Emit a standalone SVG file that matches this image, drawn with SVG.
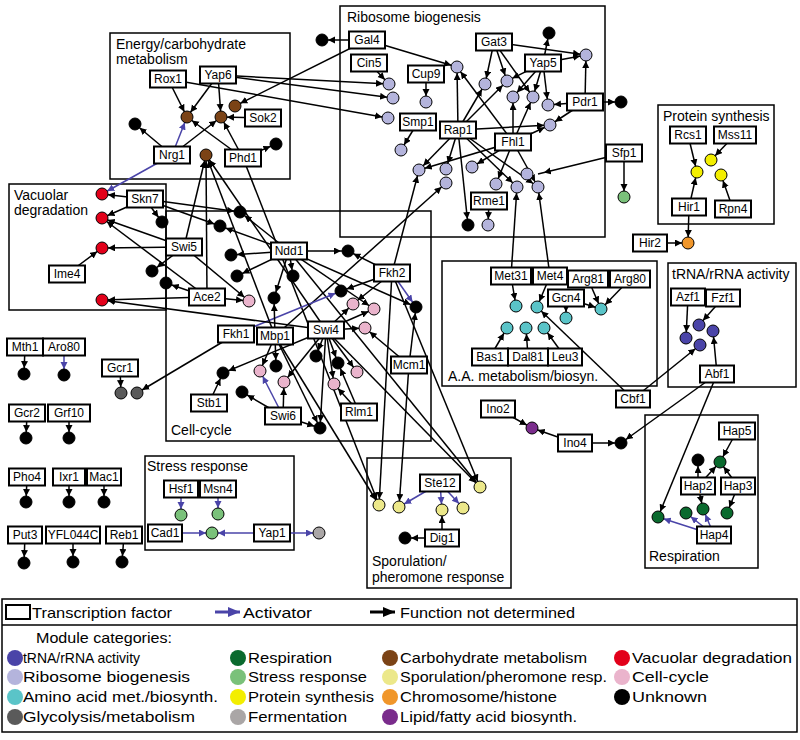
<svg xmlns="http://www.w3.org/2000/svg" width="800" height="740" viewBox="0 0 800 740">
<style>
text{font-family:"Liberation Sans",Arial,sans-serif;font-size:12px;fill:#000}
.t{text-anchor:middle}
.rg{font-size:14px}
.lg{font-size:15px}
.reg{fill:none;stroke:#000;stroke-width:1.5}
.tf rect{fill:#fff;stroke:#000;stroke-width:2}
.e line{stroke:#000;stroke-width:1.5;marker-end:url(#ab)}
.e line.b{stroke:#4a44a8;marker-end:url(#ap)}
circle{stroke:#000;stroke-width:1}
.k{fill:#000}.lv{fill:#b4b4dc}.br{fill:#7b4316}.rd{fill:#e2001a}.pk{fill:#eab4cc}.ye{fill:#f3ee00}.sy{fill:#ece88a}
.gr{fill:#7ac17a}.dg{fill:#0a6a2e}.tl{fill:#5ac4c8}.db{fill:#4a44a8}.gy{fill:#5a5a5a}.fg{fill:#aaa6a6}.or{fill:#f0962a}.pu{fill:#7a2c8c}
#legend circle{stroke:none}
</style>
<defs>
<marker id="ab" markerUnits="userSpaceOnUse" markerWidth="14" markerHeight="10" refX="13" refY="3.5" orient="auto"><path d="M0,0 L7,3.5 L0,7 z" fill="#000"/></marker>
<marker id="ap" markerUnits="userSpaceOnUse" markerWidth="14" markerHeight="10" refX="13" refY="3.5" orient="auto"><path d="M0,0 L7,3.5 L0,7 z" fill="#4a44a8"/></marker>
<marker id="lb" markerUnits="userSpaceOnUse" markerWidth="14" markerHeight="12" refX="12" refY="5" orient="auto"><path d="M0,0 L12,5 L0,10 z" fill="#4a44a8"/></marker>
<marker id="lk" markerUnits="userSpaceOnUse" markerWidth="14" markerHeight="12" refX="12" refY="5" orient="auto"><path d="M0,0 L12,5 L0,10 z" fill="#000"/></marker>
</defs>
<rect width="800" height="740" fill="#fff"/>
<g id="regions">
<rect class="reg" x="110" y="33" width="180" height="146"/><text class="rg" x="116" y="49">Energy/carbohydrate</text><text class="rg" x="116" y="64">metabolism</text>
<rect class="reg" x="340" y="6" width="265" height="231"/><text class="rg" x="347" y="22">Ribosome biogenesis</text>
<rect class="reg" x="9" y="184" width="157" height="126"/><text class="rg" x="14" y="200">Vacuolar</text><text class="rg" x="14" y="215">degradation</text>
<path class="reg" d="M166,211 H431 V441 H166 Z"/><text class="rg" x="171" y="435">Cell-cycle</text>
<rect class="reg" x="658" y="105" width="116" height="119"/><text class="rg" x="663" y="121">Protein synthesis</text>
<rect class="reg" x="442" y="261" width="215" height="125"/><text class="rg" x="448" y="381">A.A. metabolism/biosyn.</text>
<rect class="reg" x="668" y="263" width="128" height="124"/><text class="rg" x="672" y="279">tRNA/rRNA activity</text>
<rect class="reg" x="145" y="456" width="149" height="94"/><text class="rg" x="147" y="471">Stress response</text>
<rect class="reg" x="367" y="458" width="144" height="130"/><text class="rg" x="372" y="566">Sporulation/</text><text class="rg" x="372" y="582">pheromone response</text>
<rect class="reg" x="645" y="415" width="113" height="153"/><text class="rg" x="649" y="561">Respiration</text>
</g>
<g id="connectors" class="e">
<line x1="367" y1="40" x2="322" y2="40"/><line x1="367" y1="40" x2="235" y2="106"/><line x1="367" y1="40" x2="457" y2="67"/>
<line x1="168" y1="79" x2="187" y2="117"/><line x1="168" y1="79" x2="388" y2="118"/>
<line x1="218" y1="75" x2="187" y2="117"/><line x1="218" y1="75" x2="221" y2="117"/><line x1="218" y1="75" x2="389" y2="84"/><line x1="218" y1="75" x2="393" y2="98"/>
<line x1="263" y1="118" x2="221" y2="117"/>
<line x1="172" y1="155" x2="135" y2="124"/><line class="b" x1="172" y1="155" x2="187" y2="117"/><line x1="172" y1="155" x2="221" y2="117"/><line class="b" x1="172" y1="155" x2="102" y2="194"/>
<line x1="243" y1="158" x2="187" y2="117"/><line x1="243" y1="158" x2="221" y2="117"/><line x1="243" y1="158" x2="276" y2="144"/><line x1="243" y1="158" x2="379" y2="505"/>
<line x1="369" y1="63" x2="389" y2="84"/><line x1="426" y1="74" x2="426" y2="102"/><line x1="418" y1="122" x2="401" y2="150"/>
<line x1="494" y1="42" x2="485" y2="84"/><line x1="494" y1="42" x2="507" y2="81"/><line x1="494" y1="42" x2="533" y2="97"/><line x1="494" y1="42" x2="586" y2="55"/>
<line x1="543" y1="63" x2="549" y2="33"/><line x1="543" y1="63" x2="586" y2="55"/><line x1="543" y1="63" x2="513" y2="97"/><line x1="543" y1="63" x2="533" y2="97"/><line x1="543" y1="63" x2="548" y2="105"/><line x1="543" y1="63" x2="507" y2="81"/>
<line x1="458" y1="130" x2="457" y2="67"/><line x1="458" y1="130" x2="485" y2="84"/><line x1="458" y1="130" x2="507" y2="81"/><line x1="458" y1="130" x2="550" y2="125"/><line x1="458" y1="130" x2="419" y2="170"/><line x1="458" y1="130" x2="446" y2="169"/><line x1="458" y1="130" x2="468" y2="225"/><line x1="458" y1="130" x2="517" y2="187"/><line x1="458" y1="130" x2="538" y2="187"/>
<line x1="513" y1="142" x2="457" y2="67"/><line x1="513" y1="142" x2="513" y2="97"/><line x1="513" y1="142" x2="533" y2="97"/><line x1="513" y1="142" x2="550" y2="125"/><line x1="513" y1="142" x2="419" y2="170"/><line x1="513" y1="142" x2="472" y2="167"/><line x1="513" y1="142" x2="496" y2="184"/><line x1="513" y1="142" x2="538" y2="187"/>
<line x1="585" y1="102" x2="621" y2="102"/><line x1="585" y1="102" x2="586" y2="55"/><line x1="585" y1="102" x2="548" y2="105"/><line x1="585" y1="102" x2="550" y2="125"/>
<line x1="624" y1="153" x2="538" y2="174"/><line x1="624" y1="153" x2="624" y2="197"/><line x1="489" y1="201" x2="488" y2="225"/>
<line x1="392" y1="273" x2="419" y2="170"/><line x1="275" y1="336" x2="446" y2="183"/>
<line x1="511" y1="276" x2="517" y2="187"/><line x1="550" y1="276" x2="538" y2="187"/><line x1="511" y1="276" x2="516" y2="306"/><line x1="550" y1="276" x2="537" y2="307"/>
<line x1="145" y1="199" x2="102" y2="194"/><line x1="145" y1="199" x2="102" y2="218"/><line x1="145" y1="199" x2="162" y2="222"/><line x1="145" y1="199" x2="240" y2="212"/><line x1="145" y1="199" x2="220" y2="226"/>
<line x1="184" y1="247" x2="102" y2="218"/><line x1="184" y1="247" x2="102" y2="248"/><line x1="184" y1="247" x2="152" y2="271"/><line x1="184" y1="247" x2="249" y2="301"/><line x1="184" y1="247" x2="206" y2="155"/>
<line x1="67" y1="274" x2="102" y2="248"/>
<line x1="207" y1="297" x2="102" y2="218"/><line x1="207" y1="297" x2="166" y2="283"/><line x1="207" y1="297" x2="206" y2="155"/><line x1="207" y1="297" x2="249" y2="301"/><line x1="207" y1="297" x2="102" y2="300"/>
<line x1="289" y1="251" x2="240" y2="212"/><line x1="289" y1="251" x2="220" y2="226"/><line x1="289" y1="251" x2="231" y2="255"/><line x1="289" y1="251" x2="237" y2="276"/><line x1="289" y1="251" x2="347" y2="251"/><line x1="289" y1="251" x2="293" y2="276"/><line x1="289" y1="251" x2="274" y2="298"/><line x1="289" y1="251" x2="374" y2="309"/><line x1="289" y1="251" x2="416" y2="307"/><line x1="289" y1="251" x2="480" y2="487"/>
<line x1="392" y1="273" x2="348" y2="251"/><line x1="392" y1="273" x2="341" y2="291"/><line class="b" x1="392" y1="273" x2="416" y2="307"/><line x1="392" y1="273" x2="353" y2="304"/><line x1="392" y1="273" x2="379" y2="505"/><line x1="392" y1="273" x2="480" y2="487"/>
<line class="b" x1="236" y1="334" x2="341" y2="291"/><line x1="236" y1="334" x2="137" y2="393"/>
<line x1="275" y1="336" x2="274" y2="298"/><line x1="275" y1="336" x2="276" y2="366"/><line x1="275" y1="336" x2="260" y2="371"/><line x1="275" y1="336" x2="320" y2="428"/><line x1="275" y1="336" x2="379" y2="505"/><line x1="275" y1="336" x2="206" y2="155"/>
<line x1="326" y1="330" x2="102" y2="300"/><line x1="326" y1="330" x2="353" y2="304"/><line x1="326" y1="330" x2="374" y2="309"/><line x1="326" y1="330" x2="365" y2="328"/><line x1="326" y1="330" x2="316" y2="356"/><line x1="326" y1="330" x2="338" y2="363"/><line x1="326" y1="330" x2="357" y2="372"/><line x1="326" y1="330" x2="334" y2="384"/><line x1="326" y1="330" x2="284" y2="382"/><line x1="326" y1="330" x2="223" y2="373"/><line x1="326" y1="330" x2="320" y2="428"/><line x1="326" y1="330" x2="480" y2="487"/><line x1="326" y1="330" x2="206" y2="155"/>
<line x1="283" y1="416" x2="242" y2="392"/><line class="b" x1="283" y1="416" x2="260" y2="371"/><line x1="283" y1="416" x2="284" y2="382"/><line x1="283" y1="416" x2="320" y2="428"/>
<line x1="209" y1="403" x2="223" y2="373"/>
<line x1="359" y1="412" x2="338" y2="363"/><line x1="359" y1="412" x2="334" y2="384"/>
<line x1="409" y1="365" x2="365" y2="328"/><line x1="409" y1="365" x2="416" y2="307"/><line x1="409" y1="365" x2="399" y2="507"/>
<line class="b" x1="440" y1="483" x2="399" y2="507"/><line class="b" x1="440" y1="483" x2="442" y2="510"/><line class="b" x1="440" y1="483" x2="463" y2="508"/>
<line x1="442" y1="538" x2="442" y2="510"/><line x1="442" y1="538" x2="405" y2="538"/>
<line x1="25" y1="347" x2="24" y2="374"/><line class="b" x1="64" y1="347" x2="64" y2="375"/><line x1="120" y1="368" x2="121" y2="393"/>
<line x1="27" y1="413" x2="26" y2="438"/><line x1="69" y1="413" x2="69" y2="438"/>
<line x1="27" y1="477" x2="26" y2="502"/><line x1="69" y1="477" x2="69" y2="502"/><line x1="104" y1="477" x2="104" y2="502"/>
<line x1="25" y1="535" x2="24" y2="563"/><line x1="73" y1="535" x2="73" y2="562"/><line x1="124" y1="535" x2="122" y2="562"/>
<line class="b" x1="181" y1="489" x2="181" y2="515"/><line class="b" x1="218" y1="489" x2="218" y2="514"/><line class="b" x1="165" y1="533" x2="212" y2="533"/><line class="b" x1="272" y1="533" x2="212" y2="533"/><line class="b" x1="272" y1="533" x2="319" y2="533"/>
<line x1="688" y1="135" x2="697" y2="172"/><line x1="735" y1="135" x2="711" y2="160"/><line x1="689" y1="207" x2="697" y2="172"/><line x1="733" y1="209" x2="721" y2="175"/><line x1="689" y1="207" x2="688" y2="243"/><line x1="650" y1="243" x2="688" y2="243"/>
<line x1="566" y1="298" x2="566" y2="318"/><line x1="566" y1="298" x2="601" y2="309"/><line x1="588" y1="279" x2="601" y2="309"/><line x1="630" y1="279" x2="601" y2="309"/>
<line x1="490" y1="357" x2="507" y2="328"/><line x1="528" y1="357" x2="526" y2="328"/><line x1="565" y1="357" x2="544" y2="328"/>
<line x1="633" y1="399" x2="537" y2="307"/><line x1="633" y1="399" x2="700" y2="345"/>
<line x1="688" y1="297" x2="686" y2="338"/><line x1="723" y1="298" x2="699" y2="325"/><line x1="717" y1="374" x2="713" y2="331"/><line x1="717" y1="374" x2="621" y2="443"/><line x1="717" y1="374" x2="658" y2="517"/>
<line x1="498" y1="409" x2="532" y2="428"/><line x1="575" y1="443" x2="532" y2="428"/><line x1="575" y1="443" x2="621" y2="443"/>
<line x1="737" y1="431" x2="720" y2="462"/><line x1="698" y1="486" x2="698" y2="460"/><line x1="698" y1="486" x2="720" y2="462"/><line x1="698" y1="486" x2="703" y2="509"/><line x1="738" y1="486" x2="720" y2="462"/><line x1="738" y1="486" x2="727" y2="513"/>
<line class="b" x1="714" y1="535" x2="658" y2="517"/><line class="b" x1="714" y1="535" x2="686" y2="513"/><line class="b" x1="714" y1="535" x2="703" y2="509"/>
</g>
<g id="modules">
<circle class="k" cx="322" cy="40" r="6"/>
<circle class="k" cx="135" cy="124" r="6"/><circle class="br" cx="187" cy="117" r="6"/><circle class="br" cx="221" cy="117" r="6"/><circle class="br" cx="235" cy="106" r="6"/><circle class="k" cx="276" cy="144" r="6"/><circle class="br" cx="206" cy="155" r="6"/>
<circle class="lv" cx="389" cy="84" r="6"/><circle class="lv" cx="393" cy="98" r="6"/><circle class="lv" cx="388" cy="118" r="6"/><circle class="lv" cx="401" cy="150" r="6"/><circle class="lv" cx="426" cy="102" r="6"/><circle class="lv" cx="419" cy="170" r="6"/><circle class="lv" cx="446" cy="183" r="6"/>
<circle class="lv" cx="457" cy="67" r="6"/><circle class="lv" cx="485" cy="84" r="6"/><circle class="lv" cx="507" cy="81" r="6"/><circle class="lv" cx="513" cy="97" r="6"/><circle class="lv" cx="533" cy="97" r="6"/><circle class="lv" cx="548" cy="105" r="6"/><circle class="lv" cx="586" cy="55" r="6"/><circle class="lv" cx="550" cy="125" r="6"/>
<circle class="lv" cx="472" cy="167" r="6"/><circle class="lv" cx="496" cy="184" r="6"/><circle class="lv" cx="517" cy="187" r="6"/><circle class="lv" cx="527" cy="174" r="6"/><circle class="lv" cx="538" cy="187" r="6"/><circle class="lv" cx="488" cy="225" r="6"/><circle class="lv" cx="446" cy="169" r="6"/>
<circle class="k" cx="549" cy="33" r="6"/><circle class="k" cx="621" cy="102" r="6"/><circle class="k" cx="468" cy="225" r="6"/><circle class="gr" cx="624" cy="197" r="6"/>
<circle class="ye" cx="697" cy="172" r="6"/><circle class="ye" cx="711" cy="160" r="6"/><circle class="ye" cx="721" cy="175" r="6"/><circle class="or" cx="688" cy="243" r="6"/>
<circle class="rd" cx="102" cy="194" r="6"/><circle class="rd" cx="102" cy="218" r="6"/><circle class="rd" cx="102" cy="248" r="6"/><circle class="rd" cx="102" cy="300" r="6"/>
<circle class="k" cx="162" cy="222" r="6"/><circle class="k" cx="152" cy="271" r="6"/><circle class="k" cx="166" cy="283" r="6"/><circle class="k" cx="240" cy="212" r="6"/><circle class="k" cx="220" cy="226" r="6"/><circle class="k" cx="231" cy="255" r="6"/><circle class="k" cx="237" cy="276" r="6"/>
<circle class="k" cx="348" cy="251" r="6"/><circle class="k" cx="293" cy="276" r="6"/><circle class="k" cx="274" cy="298" r="6"/><circle class="k" cx="341" cy="291" r="6"/><circle class="k" cx="416" cy="307" r="6"/><circle class="k" cx="316" cy="356" r="6"/><circle class="k" cx="276" cy="366" r="6"/><circle class="k" cx="338" cy="363" r="6"/><circle class="k" cx="223" cy="373" r="6"/><circle class="k" cx="242" cy="392" r="6"/><circle class="k" cx="320" cy="428" r="6"/>
<circle class="pk" cx="249" cy="301" r="6"/><circle class="pk" cx="353" cy="304" r="6"/><circle class="pk" cx="374" cy="309" r="6"/><circle class="pk" cx="365" cy="328" r="6"/><circle class="pk" cx="260" cy="371" r="6"/><circle class="pk" cx="284" cy="382" r="6"/><circle class="pk" cx="357" cy="372" r="6"/><circle class="pk" cx="334" cy="384" r="6"/>
<circle class="gy" cx="121" cy="393" r="6"/><circle class="gy" cx="137" cy="393" r="6"/>
<circle class="k" cx="24" cy="374" r="6"/><circle class="k" cx="64" cy="375" r="6"/><circle class="k" cx="26" cy="438" r="6"/><circle class="k" cx="69" cy="438" r="6"/><circle class="k" cx="26" cy="502" r="6"/><circle class="k" cx="69" cy="502" r="6"/><circle class="k" cx="104" cy="502" r="6"/><circle class="k" cx="24" cy="563" r="6"/><circle class="k" cx="73" cy="562" r="6"/><circle class="k" cx="122" cy="562" r="6"/>
<circle class="gr" cx="181" cy="515" r="6"/><circle class="gr" cx="218" cy="514" r="6"/><circle class="gr" cx="212" cy="533" r="6"/><circle class="fg" cx="319" cy="533" r="6"/>
<circle class="sy" cx="379" cy="505" r="6"/><circle class="sy" cx="399" cy="507" r="6"/><circle class="sy" cx="442" cy="510" r="6"/><circle class="sy" cx="463" cy="508" r="6"/><circle class="sy" cx="480" cy="487" r="6"/><circle class="k" cx="405" cy="538" r="6"/>
<circle class="tl" cx="516" cy="306" r="6"/><circle class="tl" cx="537" cy="307" r="6"/><circle class="tl" cx="566" cy="318" r="6"/><circle class="tl" cx="601" cy="309" r="6"/><circle class="tl" cx="507" cy="328" r="6"/><circle class="tl" cx="526" cy="328" r="6"/><circle class="tl" cx="544" cy="328" r="6"/>
<circle class="pu" cx="532" cy="428" r="6"/><circle class="k" cx="621" cy="443" r="6"/>
<circle class="db" cx="686" cy="338" r="6"/><circle class="db" cx="699" cy="325" r="6"/><circle class="db" cx="713" cy="331" r="6"/><circle class="db" cx="700" cy="345" r="6"/>
<circle class="k" cx="698" cy="460" r="6"/><circle class="dg" cx="720" cy="462" r="6"/><circle class="dg" cx="658" cy="517" r="6"/><circle class="dg" cx="686" cy="513" r="6"/><circle class="dg" cx="703" cy="509" r="6"/><circle class="dg" cx="727" cy="513" r="6"/>
</g>
<g class="tf">
<g id="Gal4"><rect x="349" y="31.5" width="36" height="17"/><text class="t" x="367" y="44">Gal4</text></g>
<g id="Cin5"><rect x="351" y="54.5" width="36" height="17"/><text class="t" x="369" y="67">Cin5</text></g>
<g id="Cup9"><rect x="408" y="65.5" width="36" height="17"/><text class="t" x="426" y="78">Cup9</text></g>
<g id="Smp1"><rect x="400" y="113.5" width="36" height="17"/><text class="t" x="418" y="126">Smp1</text></g>
<g id="Rap1"><rect x="440" y="121.5" width="36" height="17"/><text class="t" x="458" y="134">Rap1</text></g>
<g id="Gat3"><rect x="476" y="33.5" width="36" height="17"/><text class="t" x="494" y="46">Gat3</text></g>
<g id="Yap5"><rect x="525" y="54.5" width="36" height="17"/><text class="t" x="543" y="67">Yap5</text></g>
<g id="Pdr1"><rect x="567" y="93.5" width="36" height="17"/><text class="t" x="585" y="106">Pdr1</text></g>
<g id="Fhl1"><rect x="495" y="133.5" width="36" height="17"/><text class="t" x="513" y="146">Fhl1</text></g>
<g id="Sfp1"><rect x="606" y="144.5" width="36" height="17"/><text class="t" x="624" y="157">Sfp1</text></g>
<g id="Rme1"><rect x="471" y="192.5" width="36" height="17"/><text class="t" x="489" y="205">Rme1</text></g>
<g id="Rox1"><rect x="150" y="70.5" width="36" height="17"/><text class="t" x="168" y="83">Rox1</text></g>
<g id="Yap6"><rect x="200" y="66.5" width="36" height="17"/><text class="t" x="218" y="79">Yap6</text></g>
<g id="Sok2"><rect x="245" y="109.5" width="36" height="17"/><text class="t" x="263" y="122">Sok2</text></g>
<g id="Nrg1"><rect x="154" y="146.5" width="36" height="17"/><text class="t" x="172" y="159">Nrg1</text></g>
<g id="Phd1"><rect x="225" y="149.5" width="36" height="17"/><text class="t" x="243" y="162">Phd1</text></g>
<g id="Skn7"><rect x="127" y="190.5" width="36" height="17"/><text class="t" x="145" y="203">Skn7</text></g>
<g id="Swi5"><rect x="166" y="238.5" width="36" height="17"/><text class="t" x="184" y="251">Swi5</text></g>
<g id="Ime4"><rect x="49" y="265.5" width="36" height="17"/><text class="t" x="67" y="278">Ime4</text></g>
<g id="Ndd1"><rect x="271" y="242.5" width="36" height="17"/><text class="t" x="289" y="255">Ndd1</text></g>
<g id="Fkh2"><rect x="374" y="264.5" width="36" height="17"/><text class="t" x="392" y="277">Fkh2</text></g>
<g id="Ace2"><rect x="189" y="288.5" width="36" height="17"/><text class="t" x="207" y="301">Ace2</text></g>
<g id="Fkh1"><rect x="218" y="325.5" width="36" height="17"/><text class="t" x="236" y="338">Fkh1</text></g>
<g id="Mbp1"><rect x="257" y="327.5" width="36" height="17"/><text class="t" x="275" y="340">Mbp1</text></g>
<g id="Swi4"><rect x="308" y="321.5" width="36" height="17"/><text class="t" x="326" y="334">Swi4</text></g>
<g id="Stb1"><rect x="191" y="394.5" width="36" height="17"/><text class="t" x="209" y="407">Stb1</text></g>
<g id="Swi6"><rect x="265" y="407.5" width="36" height="17"/><text class="t" x="283" y="420">Swi6</text></g>
<g id="Rlm1"><rect x="341" y="403.5" width="36" height="17"/><text class="t" x="359" y="416">Rlm1</text></g>
<g id="Mcm1"><rect x="391" y="356.5" width="36" height="17"/><text class="t" x="409" y="369">Mcm1</text></g>
<g id="Gcr1"><rect x="102" y="359.5" width="36" height="17"/><text class="t" x="120" y="372">Gcr1</text></g>
<g id="Mth1"><rect x="7" y="338.5" width="36" height="17"/><text class="t" x="25" y="351">Mth1</text></g>
<g id="Aro80"><rect x="43" y="338.5" width="42" height="17"/><text class="t" x="64" y="351">Aro80</text></g>
<g id="Gcr2"><rect x="9" y="404.5" width="36" height="17"/><text class="t" x="27" y="417">Gcr2</text></g>
<g id="Grf10"><rect x="48" y="404.5" width="42" height="17"/><text class="t" x="69" y="417">Grf10</text></g>
<g id="Pho4"><rect x="9" y="468.5" width="36" height="17"/><text class="t" x="27" y="481">Pho4</text></g>
<g id="Ixr1"><rect x="53" y="468.5" width="32" height="17"/><text class="t" x="69" y="481">Ixr1</text></g>
<g id="Mac1"><rect x="87" y="468.5" width="34" height="17"/><text class="t" x="104" y="481">Mac1</text></g>
<g id="Put3"><rect x="8" y="526.5" width="34" height="17"/><text class="t" x="25" y="539">Put3</text></g>
<g id="YFL044C"><rect x="46" y="526.5" width="54" height="17"/><text class="t" x="73" y="539">YFL044C</text></g>
<g id="Reb1"><rect x="106" y="526.5" width="36" height="17"/><text class="t" x="124" y="539">Reb1</text></g>
<g id="Hsf1"><rect x="164" y="480.5" width="34" height="17"/><text class="t" x="181" y="493">Hsf1</text></g>
<g id="Msn4"><rect x="200" y="480.5" width="36" height="17"/><text class="t" x="218" y="493">Msn4</text></g>
<g id="Cad1"><rect x="148" y="524.5" width="34" height="17"/><text class="t" x="165" y="537">Cad1</text></g>
<g id="Yap1"><rect x="254" y="524.5" width="36" height="17"/><text class="t" x="272" y="537">Yap1</text></g>
<g id="Ste12"><rect x="420" y="474.5" width="40" height="17"/><text class="t" x="440" y="487">Ste12</text></g>
<g id="Dig1"><rect x="425" y="529.5" width="34" height="17"/><text class="t" x="442" y="542">Dig1</text></g>
<g id="Rcs1"><rect x="670" y="126.5" width="36" height="17"/><text class="t" x="688" y="139">Rcs1</text></g>
<g id="Mss11"><rect x="714" y="126.5" width="42" height="17"/><text class="t" x="735" y="139">Mss11</text></g>
<g id="Hir1"><rect x="672" y="198.5" width="34" height="17"/><text class="t" x="689" y="211">Hir1</text></g>
<g id="Rpn4"><rect x="715" y="200.5" width="36" height="17"/><text class="t" x="733" y="213">Rpn4</text></g>
<g id="Hir2"><rect x="633" y="234.5" width="34" height="17"/><text class="t" x="650" y="247">Hir2</text></g>
<g id="Met31"><rect x="491" y="267.5" width="40" height="17"/><text class="t" x="511" y="280">Met31</text></g>
<g id="Met4"><rect x="533" y="267.5" width="34" height="17"/><text class="t" x="550" y="280">Met4</text></g>
<g id="Arg81"><rect x="568" y="270.5" width="40" height="17"/><text class="t" x="588" y="283">Arg81</text></g>
<g id="Arg80"><rect x="610" y="270.5" width="40" height="17"/><text class="t" x="630" y="283">Arg80</text></g>
<g id="Gcn4"><rect x="548" y="289.5" width="36" height="17"/><text class="t" x="566" y="302">Gcn4</text></g>
<g id="Bas1"><rect x="472" y="348.5" width="36" height="17"/><text class="t" x="490" y="361">Bas1</text></g>
<g id="Dal81"><rect x="508" y="348.5" width="40" height="17"/><text class="t" x="528" y="361">Dal81</text></g>
<g id="Leu3"><rect x="548" y="348.5" width="34" height="17"/><text class="t" x="565" y="361">Leu3</text></g>
<g id="Azf1"><rect x="671" y="288.5" width="34" height="17"/><text class="t" x="688" y="301">Azf1</text></g>
<g id="Fzf1"><rect x="706" y="289.5" width="34" height="17"/><text class="t" x="723" y="302">Fzf1</text></g>
<g id="Abf1"><rect x="700" y="365.5" width="34" height="17"/><text class="t" x="717" y="378">Abf1</text></g>
<g id="Cbf1"><rect x="616" y="390.5" width="34" height="17"/><text class="t" x="633" y="403">Cbf1</text></g>
<g id="Ino2"><rect x="481" y="400.5" width="34" height="17"/><text class="t" x="498" y="413">Ino2</text></g>
<g id="Ino4"><rect x="558" y="434.5" width="34" height="17"/><text class="t" x="575" y="447">Ino4</text></g>
<g id="Hap5"><rect x="719" y="422.5" width="36" height="17"/><text class="t" x="737" y="435">Hap5</text></g>
<g id="Hap2"><rect x="681" y="477.5" width="34" height="17"/><text class="t" x="698" y="490">Hap2</text></g>
<g id="Hap3"><rect x="721" y="477.5" width="34" height="17"/><text class="t" x="738" y="490">Hap3</text></g>
<g id="Hap4"><rect x="697" y="526.5" width="34" height="17"/><text class="t" x="714" y="539">Hap4</text></g>
</g>
<g id="legend">
<rect x="2" y="599" width="795" height="133" fill="none" stroke="#000" stroke-width="1.5"/>
<line x1="2" y1="625" x2="797" y2="625" stroke="#000" stroke-width="1.5"/>
<rect x="6" y="605" width="24" height="14" fill="#fff" stroke="#000" stroke-width="2"/>
<text class="lg" x="32" y="618" textLength="140" lengthAdjust="spacingAndGlyphs">Transcription factor</text>
<line x1="215" y1="612" x2="240" y2="612" stroke="#4a44a8" stroke-width="3" marker-end="url(#lb)"/><text class="lg" x="243" y="618" textLength="69" lengthAdjust="spacingAndGlyphs">Activator</text>
<line x1="370" y1="612" x2="395" y2="612" stroke="#000" stroke-width="3" marker-end="url(#lk)"/><text class="lg" x="400" y="618" textLength="175" lengthAdjust="spacingAndGlyphs">Function not determined</text>
<text class="lg" x="36" y="643" textLength="136" lengthAdjust="spacingAndGlyphs">Module categories:</text>
<circle class="db" cx="15" cy="658" r="8"/><text class="lg" x="23" y="663" textLength="117" lengthAdjust="spacingAndGlyphs">tRNA/rRNA activity</text>
<circle class="lv" cx="15" cy="677" r="8"/><text class="lg" x="23" y="682" textLength="167" lengthAdjust="spacingAndGlyphs">Ribosome biogenesis</text>
<circle class="tl" cx="15" cy="697" r="8"/><text class="lg" x="23" y="702" textLength="195" lengthAdjust="spacingAndGlyphs">Amino acid met./biosynth.</text>
<circle class="gy" cx="15" cy="717" r="8"/><text class="lg" x="23" y="722" textLength="172" lengthAdjust="spacingAndGlyphs">Glycolysis/metabolism</text>
<circle class="dg" cx="238" cy="658" r="8"/><text class="lg" x="248" y="663" textLength="84" lengthAdjust="spacingAndGlyphs">Respiration</text>
<circle class="gr" cx="238" cy="677" r="8"/><text class="lg" x="248" y="682" textLength="119" lengthAdjust="spacingAndGlyphs">Stress response</text>
<circle class="ye" cx="238" cy="697" r="8"/><text class="lg" x="248" y="702" textLength="126" lengthAdjust="spacingAndGlyphs">Protein synthesis</text>
<circle class="fg" cx="238" cy="717" r="8"/><text class="lg" x="248" y="722" textLength="99" lengthAdjust="spacingAndGlyphs">Fermentation</text>
<circle class="br" cx="390" cy="658" r="8"/><text class="lg" x="400" y="663" textLength="187" lengthAdjust="spacingAndGlyphs">Carbohydrate metabolism</text>
<circle class="sy" cx="390" cy="677" r="8"/><text class="lg" x="400" y="682" textLength="207" lengthAdjust="spacingAndGlyphs">Sporulation/pheromone resp.</text>
<circle class="or" cx="390" cy="697" r="8"/><text class="lg" x="400" y="702" textLength="157" lengthAdjust="spacingAndGlyphs">Chromosome/histone</text>
<circle class="pu" cx="390" cy="717" r="8"/><text class="lg" x="400" y="722" textLength="177" lengthAdjust="spacingAndGlyphs">Lipid/fatty acid biosynth.</text>
<circle class="rd" cx="622" cy="658" r="8"/><text class="lg" x="632" y="663" textLength="160" lengthAdjust="spacingAndGlyphs">Vacuolar degradation</text>
<circle class="pk" cx="622" cy="677" r="8"/><text class="lg" x="632" y="682" textLength="77" lengthAdjust="spacingAndGlyphs">Cell-cycle</text>
<circle class="k" cx="622" cy="697" r="8"/><text class="lg" x="632" y="702" textLength="75" lengthAdjust="spacingAndGlyphs">Unknown</text>
</g>
</svg>
